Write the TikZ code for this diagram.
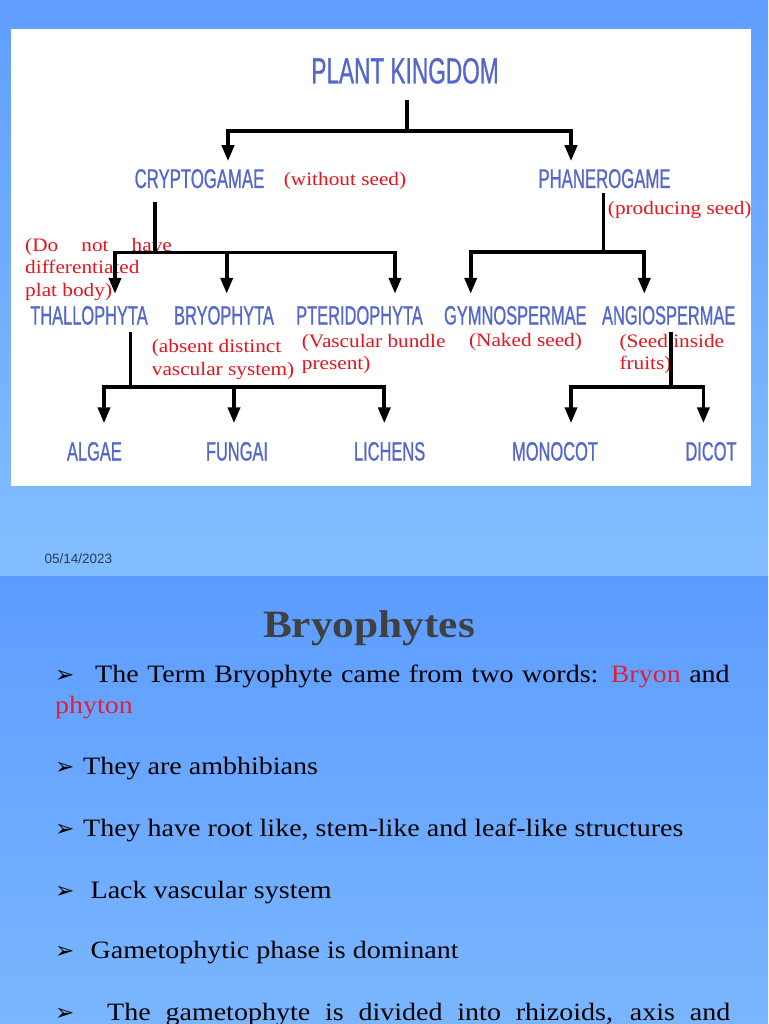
\documentclass[tikz,border=0pt]{standalone}
\usepackage{fontspec}
\setmainfont{Liberation Serif}
\newfontfamily\lblfont[FakeStretch=0.62,FakeBold=0.8]{Liberation Sans}
\newfontfamily\txtfont[FakeStretch=1.12]{Liberation Serif}
\newfontfamily\datefont{Liberation Sans}
\newfontfamily\bulfont{DejaVu Sans}
\definecolor{kblue}{HTML}{5468CC}
\definecolor{kred}{HTML}{E6141E}
\definecolor{bred}{HTML}{E0203A}
\definecolor{skytop}{RGB}{96,158,255}
\definecolor{skybot}{RGB}{130,190,255}
\definecolor{slidetop}{RGB}{92,156,255}
\definecolor{slidebot}{RGB}{122,182,255}
\definecolor{titlegray}{HTML}{404040}
\definecolor{datecol}{HTML}{2B3A55}
\usetikzlibrary{arrows.meta}
\newcommand\bul[1]{\makebox[#1][l]{\raisebox{0pt}{\bulfont\fontsize{23}{23}\selectfont ➢}}}

\begin{document}
\begin{tikzpicture}[x=1pt, y=-1pt,
  lvl/.style={font=\lblfont\fontsize{26.5}{26.5}\selectfont, text=kblue,
              inner sep=0pt, text height=19pt, text depth=0pt},
  lvltop/.style={lvl, font=\lblfont\fontsize{36.5}{36.5}\selectfont, text height=26pt},
  lvlmid/.style={lvl, font=\lblfont\fontsize{27}{27}\selectfont, text height=19.3pt},
  note/.style={font=\txtfont\fontsize{19}{22.5}\selectfont, text=kred,
               inner sep=0pt, align=left},
  stem/.style={line width=3.5pt},
  arr/.style={line width=3.8pt, -{Triangle[width=12pt,length=16pt]}},
  item/.style={font=\txtfont\fontsize{25}{31}\selectfont, anchor=base west,
               inner sep=0pt, align=left},
]
  \useasboundingbox (0,0) rectangle (768,1024);
  \shade[top color=skytop, bottom color=skybot] (0,0) rectangle (768,576);
  \shade[top color=slidetop, bottom color=slidebot] (0,576) rectangle (768,1024);
  \fill[white] (11,29.3) rectangle (751,486);

  \node[lvltop] (pk) at (405,70.5) {PLANT KINGDOM};
  \node[lvlmid] (cry) at (199.5,178.3) {CRYPTOGAMAE};
  \node[lvlmid] (phn) at (604.5,178.3) {PHANEROGAME};
  \node[lvl] (tha) at (89,315) {THALLOPHYTA};
  \node[lvl] (bry) at (224,315) {BRYOPHYTA};
  \node[lvl] (pte) at (359.5,315) {PTERIDOPHYTA};
  \node[lvl] (gym) at (515.3,315) {GYMNOSPERMAE};
  \node[lvl] (ang) at (668.7,315) {ANGIOSPERMAE};
  \node[lvl] (alg) at (94.4,451) {ALGAE};
  \node[lvl] (fun) at (237,451) {FUNGAI};
  \node[lvl] (lic) at (389.6,451) {LICHENS};
  \node[lvl] (mon) at (555,451) {MONOCOT};
  \node[lvl] (dic) at (711,451) {DICOT};

  \node[note, anchor=base] (nws) at (345,186) {(without seed)};
  \node[note, anchor=base] (nps) at (679.7,214.3) {(producing seed)};
  \node[note, anchor=base west] (nno) at (25,296)
    {\makebox[146.7pt][s]{(Do not have}\\differentiated\\plat body)};
  \node[note, anchor=base west] (nab) at (151.7,375) {(absent distinct\\vascular system)};
  \node[note, anchor=base west] (nva) at (301.7,369.5) {(Vascular bundle\\present)};
  \node[note, anchor=base] (nnk) at (525.5,346.7) {(Naked seed)};
  \node[note, anchor=base west] (nsi) at (619.3,369.5) {(Seed inside\\fruits)};

  \coordinate (j1) at (407,131);
  \coordinate (j2) at (155,252.5);
  \coordinate (j3) at (603.3,252);
  \coordinate (j4) at (130.5,387);
  \coordinate (j5) at (671,387);

  \draw[stem] ([xshift=2pt,yshift=-16.5pt]pk.south) -- (j1);
  \draw[arr] (j1) -| ([xshift=28.5pt,yshift=7.2pt]cry.north);
  \draw[arr] (j1) -| ([xshift=-33.5pt,yshift=7.2pt]phn.north);

  \draw[stem] ([xshift=-44.5pt,yshift=-13.7pt]cry.south) -- (j2);
  \draw[arr] (j2) -| ([xshift=26pt,yshift=11.5pt]tha.north);
  \draw[arr] (j2) -| ([xshift=2.7pt,yshift=11.5pt]bry.north);
  \draw[arr] (j2) -| ([xshift=35.5pt,yshift=11.5pt]pte.north);

  \draw[stem] ([xshift=-1.2pt,yshift=-4.7pt]phn.south) -- (j3);
  \draw[arr] (j3) -| ([xshift=-44.6pt,yshift=11.5pt]gym.north);
  \draw[arr] (j3) -| ([xshift=-24.4pt,yshift=11.5pt]ang.north);

  \draw[stem] ([xshift=41.5pt,yshift=-7.2pt]tha.south) -- (j4);
  \draw[arr] (j4) -| ([xshift=9.6pt,yshift=18pt]alg.north);
  \draw[arr] (j4) -| ([xshift=-3pt,yshift=18pt]fun.north);
  \draw[arr] (j4) -| ([xshift=-5.3pt,yshift=18pt]lic.north);

  \draw[stem] ([xshift=2.3pt,yshift=-7.2pt]ang.south) -- (j5);
  \draw[arr] (j5) -| ([xshift=16pt,yshift=18pt]mon.north);
  \draw[arr] (j5) -| ([xshift=-7.6pt,yshift=18pt]dic.north);

  \node[font=\datefont\fontsize{13.5}{13.5}\selectfont, text=datecol] (dt) at (78.3,558.3) {05/14/2023};

  \node[font=\txtfont\bfseries\fontsize{38.7}{38.7}\selectfont, text=titlegray, anchor=base]
    (ttl) at (369,637) {Bryophytes};
  \node[item] (b1) at (55,713)
    {\bul{40pt}\makebox[634.5pt][s]{The Term Bryophyte came from two words: \textcolor{bred}{Bryon} and}\\
     \textcolor{bred}{phyton}};
  \node[item] (b2) at (55,774.3) {\bul{28pt}They are ambhibians};
  \node[item] (b3) at (55,836.7) {\bul{28pt}They have root like, stem-like and leaf-like structures};
  \node[item] (b4) at (55,898.3) {\bul{35.5pt}Lack vascular system};
  \node[item] (b5) at (55,958.3) {\bul{35.5pt}Gametophytic phase is dominant};
  \node[item] (b6) at (55,1020)
    {\bul{52pt}\makebox[623pt][s]{The gametophyte is divided into rhizoids, axis and}};
\end{tikzpicture}
\end{document}
